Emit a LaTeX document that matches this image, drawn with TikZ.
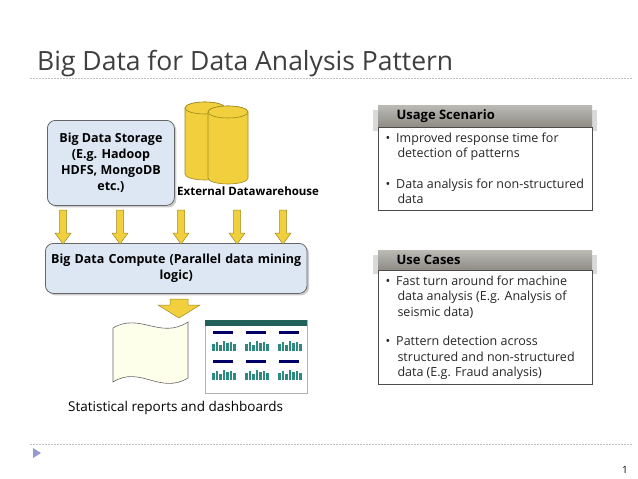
\documentclass[tikz,border=0pt]{standalone}
\usepackage{fontspec}
\setmainfont{Open Sans}
\usetikzlibrary{shadows}
\definecolor{ttl}{HTML}{3F3F3F}
\definecolor{boxb}{HTML}{DCE7F3}
\definecolor{yel}{HTML}{F2CF3C}
\definecolor{yelD}{HTML}{9C8A20}
\definecolor{hdr}{HTML}{8E8C84}
\definecolor{barc}{HTML}{2E8A80}
\tikzset{
  px/.style={x=1pt,y=-1pt},
  rbox/.style={draw=black!60,line width=0.8pt,rounded corners=8pt,fill=boxb,drop shadow={opacity=0.4,shadow xshift=2pt,shadow yshift=-2pt}},
  body/.style={font=\fontsize{12.5}{15.5}\selectfont,text=black!85},
  yarrow/.style={fill=yel,draw=yelD,line width=0.5pt},
  cyl/.style={fill=yel,draw=yelD,line width=0.6pt},
  hbox/.style={top color=hdr!60,bottom color=hdr,draw=none},
  bbox/.style={draw=black!70,line width=0.7pt,fill=white},
  dline/.style={draw=black!25,dash pattern=on 1.5pt off 1.5pt,line width=0.6pt}
}
\begin{document}
\begin{tikzpicture}[px]
\useasboundingbox (0,0) rectangle (638,479);
\fill[white] (0,0) rectangle (638,479);
% title
\node[anchor=base west,inner sep=0,text=ttl,font=\fontsize{26.5}{30}\selectfont] (title) at (37,70) {Big Data for Data Analysis Pattern};
\draw[dline] (30,78) -- (632,78);
\draw[dline] (30,444) -- (632,444);
\fill[black!45!blue!40] (33,448) -- (41,453) -- (33,458) -- cycle;
\node[anchor=base,font=\fontsize{10}{11}\selectfont] (pg) at (625,473) {1};
% storage box
\node[rbox,minimum width=127pt,minimum height=85pt,anchor=north west,align=center,inner sep=1pt,font=\fontsize{12.5}{16}\bfseries\selectfont] (stor) at (47,120) {Big Data Storage\\(E.g. Hadoop\\HDFS, MongoDB\\etc.)};
% cylinders
\foreach \x/\y in {185/102,208/106}{
  \draw[cyl] (\x,\y+6) -- (\x,\y+72) arc[start angle=180,end angle=0,x radius=20,y radius=6] -- (\x+40,\y+6) arc[start angle=0,end angle=-180,x radius=20,y radius=6] -- cycle;
  \draw[cyl] (\x+20,\y+6) ellipse[x radius=20,y radius=6];
}
\node[anchor=base west,inner sep=0,font=\fontsize{11.5}{13}\bfseries\selectfont] (ext) at (177,195) {External Datawarehouse};
% compute box
\node[rbox,minimum width=261pt,minimum height=50pt,anchor=north west,align=center,text width=255pt,font=\fontsize{12.5}{16}\bfseries\selectfont] (comp) at (45,243) {Big Data Compute (Parallel data mining\\logic)};
\foreach \x in {63,120,181,237,283}{
  \draw[yarrow] (\x-3.5,210) -- (\x+3.5,210) -- (\x+3.5,233) -- (\x+8,233) -- (\x,244) -- (\x-8,233) -- (\x-3.5,233) -- cycle;
}
\draw[yarrow] (170,299) -- (188,299) -- (188,305) -- (200,305) -- (179,318) -- (158,305) -- (170,305) -- cycle;
% document wave
\draw[fill=green!12!yellow!8!white,draw=black!60,line width=0.6pt] (113,328) .. controls (140,312) and (160,340) .. (188,322) -- (188,378) .. controls (160,395) and (140,365) .. (113,382) -- cycle;
% dashboard
\draw[fill=white,draw=black!30] (205,320) rectangle (307,393);
\fill[barc!70!black] (205,320) rectangle (307,326);
\foreach \cx/\cy in {208/331,241/331,274/331,208/360,241/360,274/360}{
  \fill[blue!40!black] (\cx+5,\cy) rectangle (\cx+25,\cy+3);
  \foreach \i/\h in {0/7,1/9,2/6,3/10,4/8,5/9,6/7}{ \fill[barc] (\cx+4+\i*3.5,\cy+20-\h) rectangle (\cx+6.5+\i*3.5,\cy+20); }
}
\node[anchor=base west,inner sep=0,font=\fontsize{13.5}{15}\selectfont] (stat) at (68,411) {Statistical reports and dashboards};
% usage scenario
\fill[black!15] (373,110) rectangle (597,131);
\fill[hbox] (378,105) rectangle (592,127);
\node[anchor=west,font=\fontsize{13}{15}\bfseries\selectfont] (us) at (393,116) {Usage Scenario};
\draw[bbox] (378,127) rectangle (592,210);
\node[anchor=north west,align=left,body] (ustxt) at (382,129) {•\hspace{6pt}Improved response time for\\\hspace{12pt}detection of patterns\\[15pt]•\hspace{6pt}Data analysis for non-structured\\\hspace{12pt}data};
% use cases
\fill[black!15] (373,255) rectangle (597,274);
\fill[hbox] (378,250) rectangle (592,270);
\node[anchor=west,font=\fontsize{13}{15}\bfseries\selectfont] (uc) at (393,260) {Use Cases};
\draw[bbox] (378,270) rectangle (592,384);
\node[anchor=north west,align=left,body] (uctxt) at (382,272) {•\hspace{6pt}Fast turn around for machine\\\hspace{12pt}data analysis (E.g. Analysis of\\\hspace{12pt}seismic data)\\[14pt]•\hspace{6pt}Pattern detection across\\\hspace{12pt}structured and non-structured\\\hspace{12pt}data (E.g. Fraud analysis)};
\end{tikzpicture}
\end{document}
